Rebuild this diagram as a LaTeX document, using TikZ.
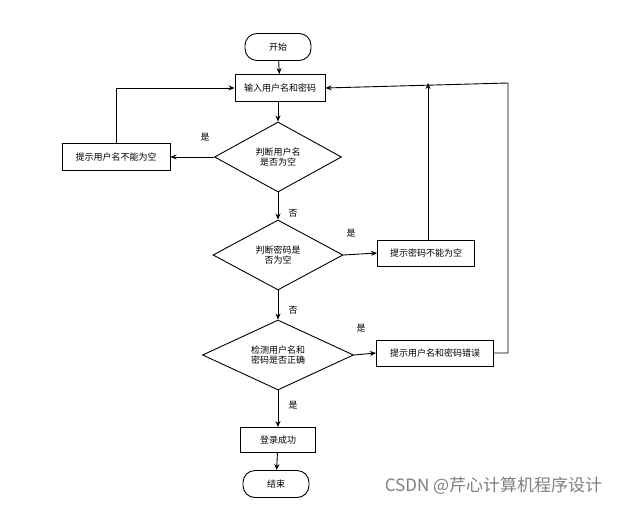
\documentclass[tikz,border=0pt]{standalone}
\usepackage{fontspec}
\setmainfont{Noto Sans CJK SC}
\usetikzlibrary{shapes.geometric, arrows.meta}
\begin{document}
\begin{tikzpicture}[x=1pt, y=-1pt,
      font=\fontsize{9}{10}\selectfont,
      line width=0.9pt,
      >={Stealth[length=6pt,width=5pt]},
      box/.style={draw, rectangle, inner sep=0pt},
      term/.style={draw, rounded corners=12pt, minimum width=66pt, minimum height=27pt},
      decide/.style={draw, diamond, aspect=1.8, inner sep=1pt, align=center},
      lbl/.style={font=\fontsize{9}{10}\selectfont}]
      \useasboundingbox (0,0) rectangle (620,505);
      \node[term] (start) at (278,47) {开始};
      \node[box, minimum width=90pt, minimum height=27pt] (input) at (280,88) {输入用户名和密码};
      \node[decide, minimum width=127pt, minimum height=70pt] (chkU) at (278,157) {判断用户名\\是否为空};
      \node[box, minimum width=108pt, minimum height=27pt] (errU) at (116,157) {提示用户名不能为空};
      \node[decide, minimum width=130pt, minimum height=70pt] (chkP) at (278,255) {判断密码是\\否为空};
      \node[box, minimum width=97pt, minimum height=26pt] (errP) at (426,253) {提示密码不能为空};
      \node[decide, minimum width=151pt, minimum height=70pt] (chkA) at (278,355) {检测用户名和\\密码是否正确};
      \node[box, minimum width=117pt, minimum height=26pt] (errA) at (435,353) {提示用户名和密码错误};
      \node[box, minimum width=75pt, minimum height=25pt] (ok) at (278,440) {登录成功};
      \node[term] (stop) at (276,484) {结束};
      \coordinate (top) at (508,83);
      % main line
      \draw[->] (start) -- (input);
      \draw[->] (input.south -| chkU) -- (chkU);
      \draw[->] (chkU) -- (chkP);
      \draw[->] (chkP) -- (chkA);
      \draw[->] (chkA) -- (ok);
      \draw[->] (ok) -- (stop);
      % branches
      \draw[->] (chkU.west) -- (errU.east);
      \draw[->] (errU.north) |- (input.west);
      \draw[->] (chkP.east) -- (errP.west);
      \draw[->] (errP.north -| 428,0) -- (428,83);
      \draw[->] (chkA.east) -- (errA.west);
      \draw[->] (errA.east) -| (top) -- (input.east);
      % labels
      \node[lbl] (yes1) at (205,137) {是};
      \node[lbl] (no1) at (293,213) {否};
      \node[lbl] (yes2) at (351,233) {是};
      \node[lbl] (no2) at (293,310) {否};
      \node[lbl] (yes3) at (361,328) {是};
      \node[lbl] (yes4) at (293,405) {是};
      \node[text=gray, font=\fontsize{17}{18}\selectfont, anchor=east] (mark) at (606,486) {CSDN @芹心计算机程序设计};
\end{tikzpicture}
\end{document}
